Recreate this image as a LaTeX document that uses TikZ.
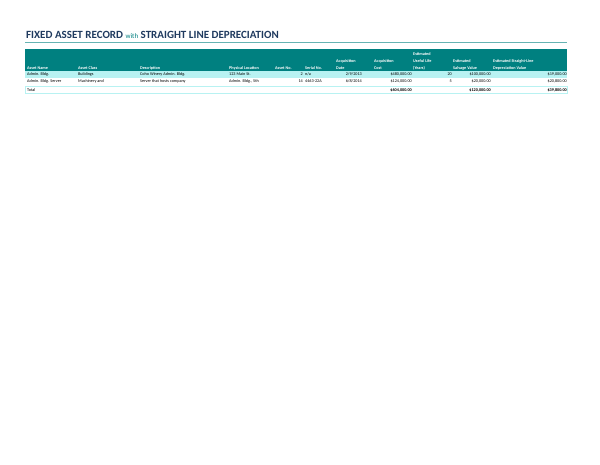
\documentclass[tikz,border=0pt]{standalone}
\usepackage{fontspec}
\setmainfont{Carlito}
\begin{document}
\begin{tikzpicture}[x=1pt,y=-1pt,
  t/.style={anchor=base west,inner sep=0pt,font=\fontsize{4.2}{5}\selectfont},
  h/.style={t,text=white,font=\fontsize{4.2}{5}\selectfont\bfseries},
  r/.style={t,anchor=base east},
  tb/.style={r,font=\fontsize{4.2}{5}\selectfont\bfseries}]
\definecolor{teal1}{HTML}{008080}
\definecolor{lcyan}{HTML}{B8F2F2}
\definecolor{titleblue}{HTML}{1F3A5F}
\useasboundingbox (0,0) rectangle (600,464);
\fill[white] (0,0) rectangle (600,464);
\node[anchor=base west,inner sep=0pt,text=titleblue,font=\fontsize{11}{12}\selectfont\bfseries] (title) at (26,38) {FIXED ASSET RECORD {\color{teal1}\fontsize{7}{8}\selectfont\mdseries with} STRAIGHT LINE DEPRECIATION};
\draw[teal1!60,line width=0.8pt] (25,42.5) -- (567,42.5);
\fill[teal1] (25,49) rectangle (567,71);
\fill[lcyan] (25,71) rectangle (567,77.5);
\draw[teal1!70,line width=0.8pt] (25,86) -- (567,86);
\draw[lcyan,line width=0.8pt] (25,86) rectangle (567,93.5);
% headers
\node[h] (h1) at (27,69) {Asset Name};
\node[h] (h2) at (78,69) {Asset Class};
\node[h] (h3) at (140,69) {Description};
\node[h] (h4) at (229,69) {Physical Location};
\node[h] (h5) at (275,69) {Asset No.};
\node[h] (h6) at (305,69) {Serial No.};
\node[h] (h7a) at (336,62) {Acquisition};
\node[h] (h7b) at (336,69) {Date};
\node[h] (h8a) at (374,62) {Acquisition};
\node[h] (h8b) at (374,69) {Cost};
\node[h] (h9a) at (413,55) {Estimated};
\node[h] (h9b) at (413,62) {Useful Life};
\node[h] (h9c) at (413,69) {(Years)};
\node[h] (h10a) at (453,62) {Estimated};
\node[h] (h10b) at (453,69) {Salvage Value};
\node[h] (h11a) at (493,62) {Estimated Straight-Line};
\node[h] (h11b) at (493,69) {Depreciation Value};
% row 1
\node[t] (a1) at (27,75.5) {Admin. Bldg.};
\node[t] (b1) at (78,75.5) {Buildings};
\node[t] (c1) at (140,75.5) {Coho Winery Admin. Bldg.};
\node[t] (d1) at (229,75.5) {123 Main St.};
\node[r] (e1) at (303,75.5) {2};
\node[t] (f1) at (305,75.5) {n/a};
\node[r] (g1) at (362,75.5) {2/9/2013};
\node[r] (i1) at (412,75.5) {\$480,000.00};
\node[r] (j1) at (452,75.5) {20};
\node[r] (k1) at (491,75.5) {\$100,000.00};
\node[r] (l1) at (567,75.5) {\$19,000.00};
% row 2
\node[t] (a2) at (27,82.5) {Admin. Bldg. Server};
\node[t] (b2) at (78,82.5) {Machinery and};
\node[t] (c2) at (140,82.5) {Server that hosts company};
\node[t] (d2) at (229,82.5) {Admin. Bldg., 5th};
\node[r] (e2) at (303,82.5) {14};
\node[t] (f2) at (305,82.5) {4463-22A};
\node[r] (g2) at (362,82.5) {6/8/2014};
\node[r] (i2) at (412,82.5) {\$124,000.00};
\node[r] (j2) at (452,82.5) {5};
\node[r] (k2) at (491,82.5) {\$20,000.00};
\node[r] (l2) at (567,82.5) {\$20,800.00};
% total
\node[t] (tot) at (27,91.5) {Total};
\node[tb] (ti) at (412,91.5) {\$604,000.00};
\node[tb] (tk) at (491,91.5) {\$120,000.00};
\node[tb] (tl) at (567,91.5) {\$39,800.00};
\end{tikzpicture}
\end{document}
